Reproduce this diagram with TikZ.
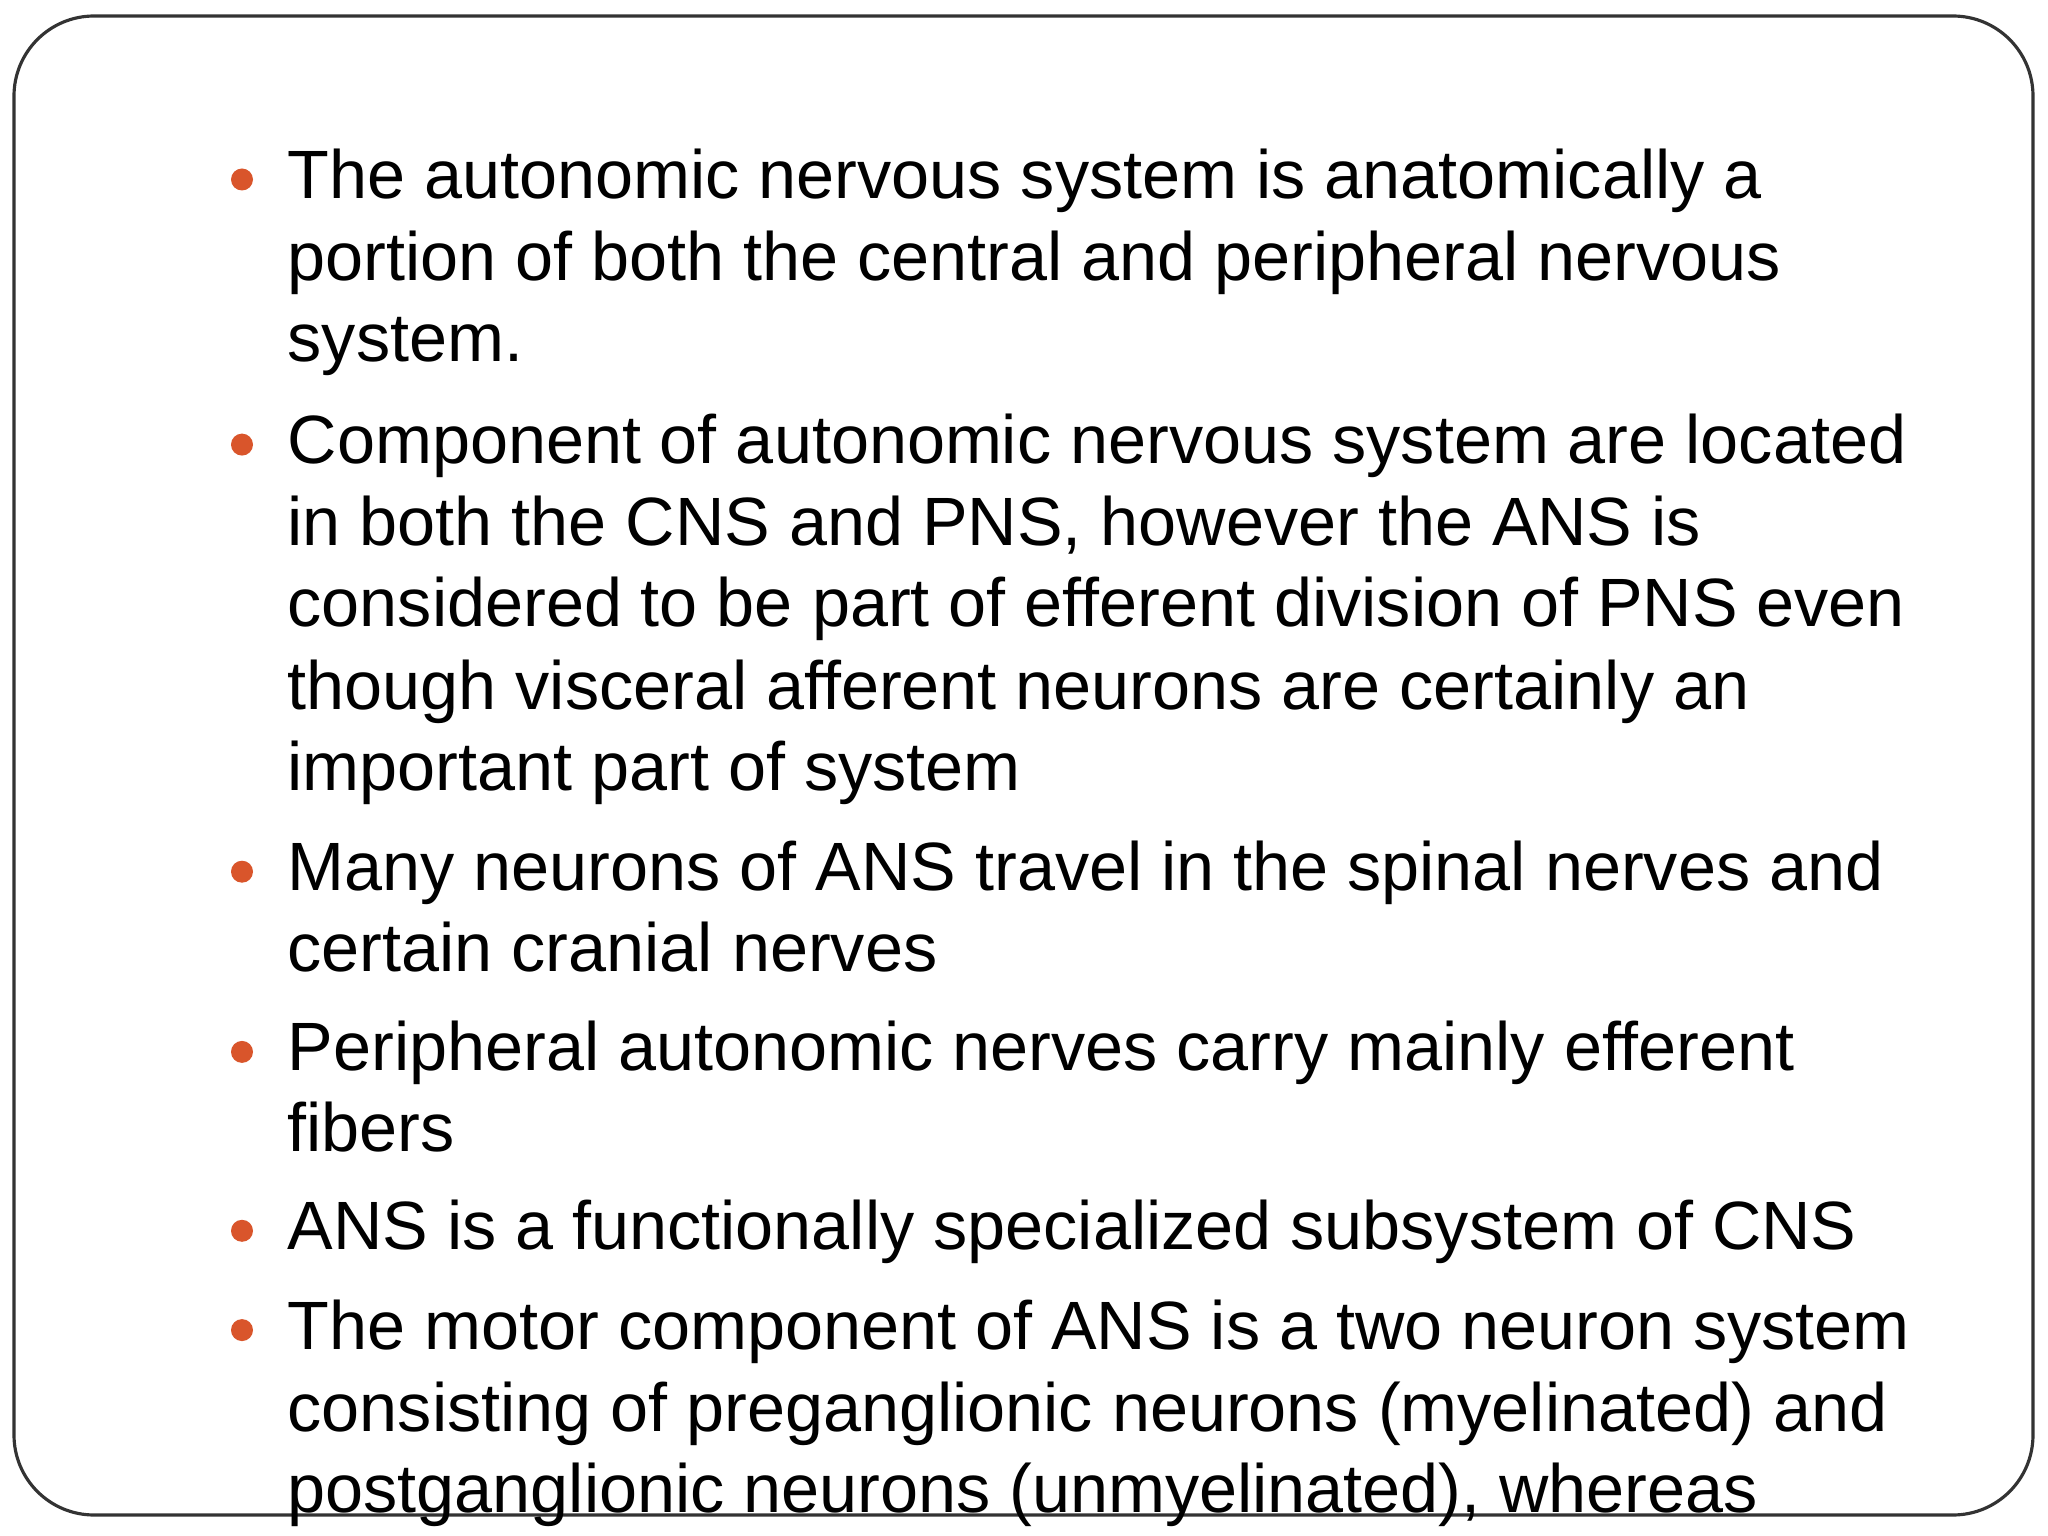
\documentclass[tikz,border=0pt]{standalone}
\usepackage{fontspec}
\setmainfont{Liberation Sans}
\definecolor{bul}{HTML}{D9552B}
\begin{document}
\begin{tikzpicture}[
  line/.style={anchor=base west, inner sep=0pt, font=\fontsize{19.45}{24}\selectfont},
  dot/.style={circle, fill=bul, inner sep=0pt, minimum size=0.22cm}]
\useasboundingbox (0,0) rectangle (20.48,-15.36);
\fill[white] (0,0) rectangle (20.48,-15.36);
\draw[line width=0.9pt, black!80, rounded corners=0.8cm] (0.14,-0.16) rectangle (20.33,-15.15);
\def\tx{2.87}
\foreach \y/\n in {1.985/a,4.636/b,8.907/c,10.709/d,12.498/e,13.491/f}
  \node[dot] (b\n) at (2.42,-\y+0.19) {};
\node[line] (l1) at (\tx,-1.985) {The autonomic nervous system is anatomically a};
\node[line] (l2) at (\tx,-2.808) {portion of both the central and peripheral nervous};
\node[line] (l3) at (\tx,-3.618) {system.};
\node[line] (l4) at (\tx,-4.636) {Component of autonomic nervous system are located};
\node[line] (l5) at (\tx,-5.459) {in both the CNS and PNS, however the ANS is};
\node[line] (l6) at (\tx,-6.269) {considered to be part of efferent division of PNS even};
\node[line] (l7) at (\tx,-7.091) {though visceral afferent neurons are certainly an};
\node[line] (l8) at (\tx,-7.901) {important part of system};
\node[line] (l9) at (\tx,-8.907) {Many neurons of ANS travel in the spinal nerves and};
\node[line] (l10) at (\tx,-9.717) {certain cranial nerves};
\node[line] (l11) at (\tx,-10.709) {Peripheral autonomic nerves carry mainly efferent};
\node[line] (l12) at (\tx,-11.519) {fibers};
\node[line] (l13) at (\tx,-12.498) {ANS is a functionally specialized subsystem of CNS};
\node[line] (l14) at (\tx,-13.491) {The motor component of ANS is a two neuron system};
\node[line] (l15) at (\tx,-14.314) {consisting of preganglionic neurons (myelinated) and};
\node[line] (l16) at (\tx,-15.123) {postganglionic neurons (unmyelinated), whereas};
\end{tikzpicture}
\end{document}
